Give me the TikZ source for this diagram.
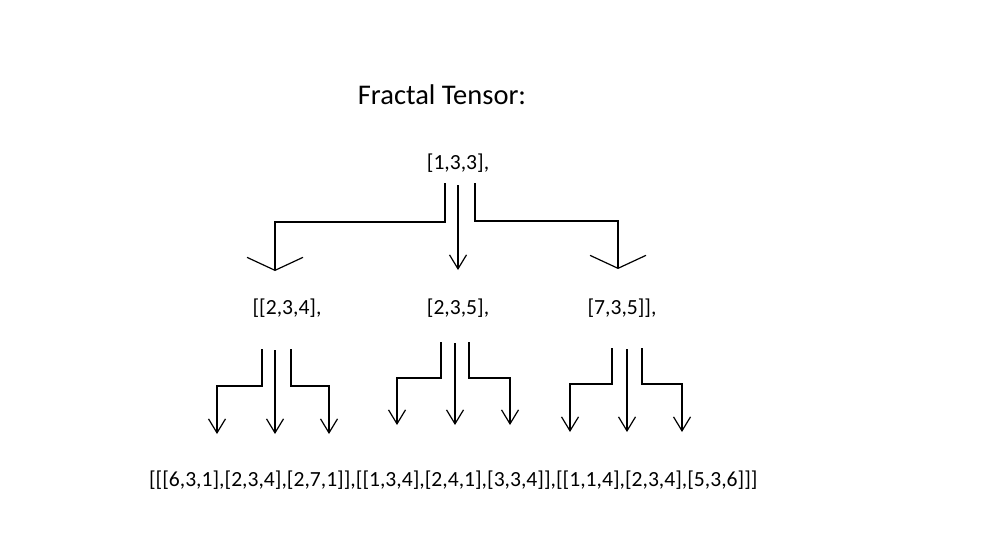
\documentclass[tikz,border=0pt]{standalone}
\usepackage{fontspec}
\setmainfont{Carlito}
\usetikzlibrary{arrows.meta}
\begin{document}
\begin{tikzpicture}[x=1pt,y=-1pt,
  ln/.style={line width=1.2pt,black},
  sm/.style={ln,-{Straight Barb[length=14pt,width=17pt,line width=1.2pt]}},
  bg/.style={ln,-{Straight Barb[length=13pt,width=56pt,line width=1.2pt]}},
  lbl/.style={font=\fontsize{21.6}{24}\selectfont,inner sep=0pt}]
\useasboundingbox[fill=white] (0,0) rectangle (984,554);
\node[font=\fontsize{28.5}{32}\selectfont,inner sep=0pt] (title) at (442,95) {Fractal Tensor:};
\node[lbl] (root) at (458,163) {[1,3,3],};
\node[lbl] (a) at (287,308) {[[2,3,4],};
\node[lbl] (b) at (458,308) {[2,3,5],};
\node[lbl] (c) at (622,308) {[7,3,5]],};
\node[lbl] (bot) at (453,480) {[[[6,3,1],[2,3,4],[2,7,1]],[[1,3,4],[2,4,1],[3,3,4]],[[1,1,4],[2,3,4],[5,3,6]]]};
\coordinate (a1) at (275,271);
\coordinate (c1) at (618,269);
\coordinate (b1) at (458,270);
\draw[bg] (445,183) -- (445,222) -- (275,222) -- (a1);
\draw[sm] (458,185) -- (b1);
\draw[bg] (475,183) -- (475,221) -- (618,221) -- (c1);
\foreach \l/\m/\r/\t/\h/\L/\R/\B/\n in {262/275/291/349/386/217/329/434/1,441/455/469/342/378/397/510/425/2,612/627/642/348/384/570/682/432/3}{
  \coordinate (l\n) at (\L,\B);
  \coordinate (m\n) at (\m,\B);
  \coordinate (r\n) at (\R,\B);
  \draw[sm] (\l,\t) -- (\l,\h) -- (\L,\h) -- (l\n);
  \draw[sm] (\m,\t+1) -- (m\n);
  \draw[sm] (\r,\t) -- (\r,\h) -- (\R,\h) -- (r\n);
}
\end{tikzpicture}
\end{document}
